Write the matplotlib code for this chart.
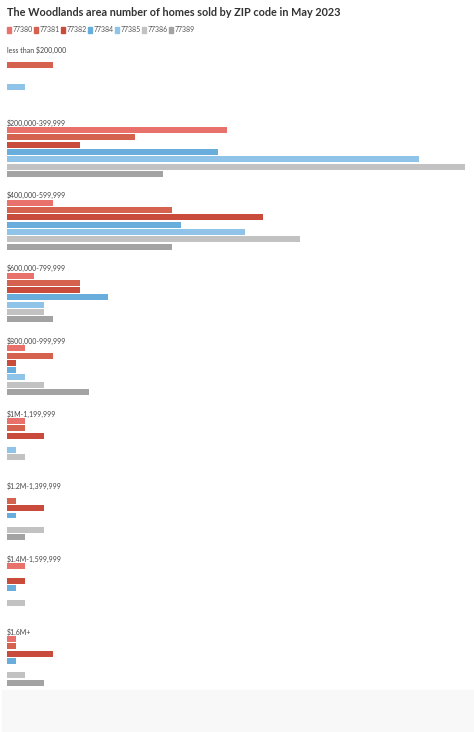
import matplotlib.pyplot as plt
from matplotlib.patches import Rectangle

# homes sold per price band, one list per ZIP (0 = none sold)
price_bands = ["less than $200,000", "$200,000-399,999", "$400,000-599,999",
               "$600,000-799,999", "$800,000-999,999", "$1M-1,199,999",
               "$1.2M-1,399,999", "$1.4M-1,599,999", "$1.6M+"]
zips = ["77380", "77381", "77382", "77384", "77385", "77386", "77389"]
colors = ["#e8726b", "#d5614f", "#c84b3c", "#69addc", "#8fc4e8", "#c2c2c2", "#a3a3a3"]

sales_77380 = [0, 24, 5, 3, 2, 2, 0, 2, 1]
sales_77381 = [5, 14, 18, 8, 5, 2, 1, 0, 1]
sales_77382 = [0, 8, 28, 8, 1, 4, 4, 2, 5]
sales_77384 = [0, 23, 19, 11, 1, 0, 1, 1, 1]
sales_77385 = [2, 45, 26, 4, 2, 1, 0, 0, 0]
sales_77386 = [0, 50, 32, 4, 4, 2, 4, 2, 2]
sales_77389 = [0, 17, 18, 5, 9, 0, 2, 0, 4]
series = [sales_77380, sales_77381, sales_77382, sales_77384,
          sales_77385, sales_77386, sales_77389]

W, H = 474, 732
fig = plt.figure(figsize=(W / 100, H / 100), dpi=100)
plt.rcParams['font.family'] = ['Lato', 'DejaVu Sans']

# footer band
fig.patches.append(Rectangle((2 / W, 0), 1, 42 / H, transform=fig.transFigure,
                             color="#f8f8f8", zorder=0))

fig.text(7 / W, 1 - 12 / H, "The Woodlands area number of homes sold by ZIP code in May 2023",
         fontsize=7.8, fontweight="bold", color="#333333", va="center", ha="left")

# legend
for i, (z, c) in enumerate(zip(zips, colors)):
    x0 = (7 + 27 * i) / W
    fig.patches.append(Rectangle((x0, 1 - 33 / H), 4 / W, 6 / H,
                                 transform=fig.transFigure, color=c))
    fig.text(x0 + 6 / W, 1 - 30 / H, z, fontsize=5, color="#555555",
             va="center", ha="left")

row_px = 7.27
top_px, bot_px = 57.5 - 1.5 * row_px, 57.5 + 86.5 * row_px
ax = fig.add_axes([7 / W, 1 - bot_px / H, 458 / W, (bot_px - top_px) / H])
ax.set_xlim(0, 50)
ax.set_ylim(86.5, -1.5)
ax.axis("off")

n = len(zips)
for g, band in enumerate(price_bands):
    base = g * 10
    ax.text(0, base - 1.0, band, fontsize=5, color="#444444", va="center", ha="left")
    for k in range(n):
        v = series[k][g]
        if v > 0:
            ax.barh(base + k, v, height=0.82, color=colors[k], left=0)

fig.savefig("out.png", dpi=100)
